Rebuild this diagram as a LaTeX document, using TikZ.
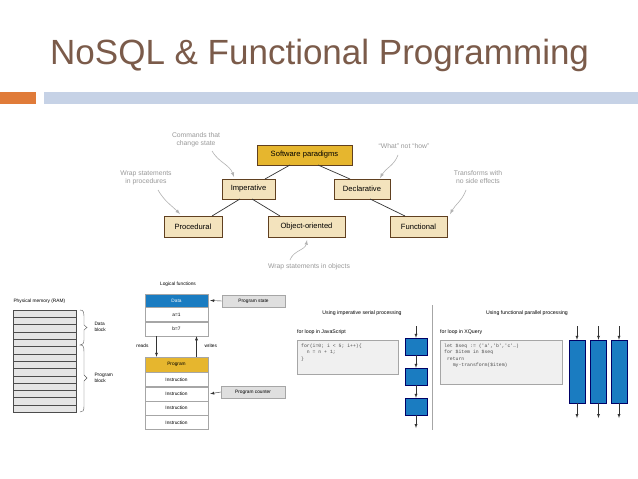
\documentclass[tikz,border=0pt]{standalone}
\usepackage{fontspec}
\setmainfont{Liberation Sans}
\setmonofont{Liberation Mono}
\begin{document}
\begin{tikzpicture}[x=1pt,y=-1pt,
 tn/.style={draw=brown!50!black,fill=tanf,line width=0.6pt,font=\fontsize{7.6}{8}\selectfont,inner sep=0},
 ann/.style={text=gray!80,font=\fontsize{6.8}{7.8}\selectfont,align=center},
 cur/.style={gray!60,line width=0.6pt,-latex},
 sm/.style={font=\fontsize{4.8}{5.8}\selectfont},
 cell/.style={draw=gray!70,fill=white,line width=0.4pt,sm},
 gbox/.style={draw=gray!70,fill=gray!25,line width=0.5pt,sm},
 ar/.style={-latex,gray!40!black,line width=0.4pt},
 blu/.style={fill=bluec,draw=blue!40!black,line width=0.4pt}]
\definecolor{tanf}{HTML}{F3E3BD}
\definecolor{goldc}{HTML}{E6B62E}
\definecolor{bluec}{HTML}{1A7CC1}
\definecolor{titlec}{HTML}{7B5B4A}
\definecolor{barb}{HTML}{C6D2E6}
\definecolor{baro}{HTML}{E07B39}
\useasboundingbox (0,0) rectangle (638,479);
\fill[white] (0,0) rectangle (638,479);
\node[anchor=base west,text=titlec,font=\fontsize{35}{38}\selectfont,inner sep=0] (title) at (50,64) {NoSQL \& Functional Programming};
\fill[baro] (0,92) rectangle (36,104);
\fill[barb] (44,92) rectangle (638,104);
% tree
\node[tn,fill=goldc,minimum width=95,minimum height=20] (sp) at (304.5,155) {Software paradigms};
\node[tn,minimum width=53,minimum height=20] (imp) at (248.5,189) {Imperative};
\node[tn,minimum width=56,minimum height=20] (dec) at (362,189) {Declarative};
\node[tn,minimum width=58,minimum height=21] (pro) at (193,226.5) {Procedural};
\node[tn,minimum width=77,minimum height=21] (oo) at (306.5,226.5) {Object-oriented};
\node[tn,minimum width=57,minimum height=21] (fun) at (418.5,226.5) {Functional};
\draw[gray!40!black,line width=0.7pt] (290,165) -- (265,179) (318,165) -- (350,179)
 (240,199) -- (212,216) (252,199) -- (280,216) (370,199) -- (405,216);
\node[ann] (a1) at (196,140) {Commands that\\change state};
\node[ann] (a2) at (146,178) {Wrap statements\\in procedures};
\node[ann] (a3) at (404,146) {“What” not “how”};
\node[ann] (a4) at (478,177) {Transforms with\\no side effects};
\node[ann] (a5) at (309,267) {Wrap statements in objects};
\draw[cur] (212,151) to[out=-60,in=110] (234,177);
\draw[cur] (158,190) to[out=-60,in=135] (180,214);
\draw[cur] (398,155) to[out=-110,in=60] (380,178);
\draw[cur] (466,190) to[out=-110,in=60] (450,214);
\draw[cur] (290,260) to[out=70,in=-100] (307,240);
% memory
\node[sm,anchor=west] (pm) at (10,301) {Physical memory (RAM)};
\foreach \i in {0,...,13}{\draw[fill=gray!20,draw=gray!60!black,line width=0.4pt] (13,310+\i*7.3) rectangle (76,317.3+\i*7.3);}
\draw[gray!70!black,line width=0.4pt] (80,310) .. controls (84,310) and (84,312) .. (84,320) -- (84,325) -- (87,327.5) -- (84,330) -- (84,340) .. controls (84,344) and (82,345) .. (80,345)
 .. controls (83,345) and (84,346) .. (84,352) -- (84,375) -- (87,378) -- (84,381) -- (84,406) .. controls (84,411) and (83,412) .. (80,412);
\node[sm,anchor=west,align=left] (db) at (91,327) {Data\\block};
\node[sm,anchor=west,align=left] (pb) at (91,378) {Program\\block};
% logical functions
\node[sm] (lf) at (178,284) {Logical functions};
\node[cell,fill=bluec,text=white,minimum width=63,minimum height=13.5,inner sep=0] (data) at (176.5,300.5) {Data};
\node[cell,minimum width=63,minimum height=14,inner sep=0,anchor=north] (a) at (data.south) {a=1};
\node[cell,minimum width=63,minimum height=14,inner sep=0,anchor=north] (b) at (a.south) {b=7};
\node[cell,fill=goldc,minimum width=63,minimum height=15,inner sep=0] (prog) at (176.5,364.5) {Program};
\node[cell,minimum width=63,minimum height=14,inner sep=0,anchor=north] (i1) at (prog.south) {Instruction};
\node[cell,minimum width=63,minimum height=14,inner sep=0,anchor=north] (i2) at (i1.south) {Instruction};
\node[cell,minimum width=63,minimum height=14,inner sep=0,anchor=north] (i3) at (i2.south) {Instruction};
\node[cell,minimum width=63,minimum height=14,inner sep=0,anchor=north] (i4) at (i3.south) {Instruction};
\node[gbox,minimum width=63,minimum height=12,inner sep=0] (ps) at (253.5,301) {Program state};
\node[gbox,minimum width=64,minimum height=12,inner sep=0] (pc) at (253,392) {Program counter};
\draw[ar] (ps.west) -- ([xshift=2]data.east);
\draw[ar] (pc.west) -- ([xshift=2]i2.east);
\draw[ar] ([xshift=-20]b.south) -- ([xshift=-20]prog.north);
\draw[ar] ([xshift=20]prog.north) -- ([xshift=20]b.south);
\node[sm,anchor=east] (rd) at (152,346) {reads};
\node[sm,anchor=west] (wr) at (201,346) {writes};
% divider
\draw[gray!70,line width=0.8pt] (432,305) -- (432,430);
\node[sm,font=\fontsize{5.2}{6}\selectfont] (t1) at (362,313) {Using imperative serial processing};
\node[sm,font=\fontsize{5.2}{6}\selectfont] (t2) at (527,313) {Using functional parallel processing};
\node[sm,anchor=west,font=\fontsize{5.2}{6}\selectfont,inner sep=0] (f1) at (297,332) {for loop in JavaScript};
\node[sm,anchor=west,font=\fontsize{5.2}{6}\selectfont,inner sep=0] (f2) at (440,332) {for loop in XQuery};
\node[draw=gray!70,fill=gray!12,line width=0.5pt,minimum width=101,minimum height=34,anchor=north west,inner sep=0] (c1) at (297,340) {};
\node[anchor=north west,font=\ttfamily\fontsize{4.8}{6.2}\selectfont,align=left,text=gray!60!black,inner sep=0] (c1t) at (301,344) {for(i=0; i < 5; i++)\{\\\ \ n = n + 1;\\\}};
\node[draw=gray!70,fill=gray!12,line width=0.5pt,minimum width=122,minimum height=44,anchor=north west,inner sep=0] (c2) at (440,340) {};
\node[anchor=north west,font=\ttfamily\fontsize{4.8}{6.2}\selectfont,align=left,text=gray!60!black,inner sep=0] (c2t) at (444,344) {let \$seq := ('a','b','c'\ldots)\\for \$item in \$seq\\\ return\\\ \ \ my-transform(\$item)};
\node[blu,minimum width=22,minimum height=17,inner sep=0] (s1) at (416,346.5) {};
\node[blu,minimum width=22,minimum height=17,inner sep=0] (s2) at (416,376.5) {};
\node[blu,minimum width=22,minimum height=17,inner sep=0] (s3) at (416,406.5) {};
\coordinate (st) at (416,326); \coordinate (sb) at (416,428);
\draw[ar] (st) -- (s1); \draw[ar] (s1) -- (s2); \draw[ar] (s2) -- (s3); \draw[ar] (s3) -- (sb);
\foreach \n/\x in {p1/577,p2/598.5,p3/619}{
 \node[blu,minimum width=16,minimum height=63,inner sep=0] (\n) at (\x,371.5) {};
 \coordinate (\n t) at (\x,326); \coordinate (\n b) at (\x,418);
 \draw[ar] (\n t) -- (\n); \draw[ar] (\n) -- (\n b);}
\end{tikzpicture}
\end{document}
